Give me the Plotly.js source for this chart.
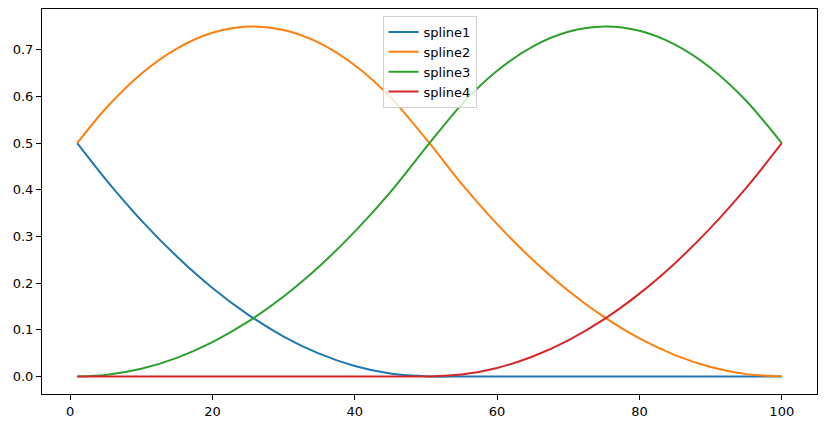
<!DOCTYPE html>
<html>
<head>
<meta charset="utf-8">
<script src="https://cdn.plot.ly/plotly-3.0.1.min.js"></script>
<style>html,body{margin:0;padding:0;background:#fff;}#chart{width:826px;height:428px;}</style>
</head>
<body>
<div id="chart"></div>
<script>
const xs = [1, 5, 10, 15, 20, 25, 30, 35, 40, 45, 50.5, 55, 60, 65, 70, 75, 80, 85, 90, 95, 100];
const spline1 = [0.5, 0.4225, 0.3347, 0.2572, 0.1898, 0.1327, 0.0857, 0.0490, 0.0225, 0.0062, 0, 0, 0, 0, 0, 0, 0, 0, 0, 0, 0];
const spline2 = [0.5, 0.5742, 0.6488, 0.7028, 0.7365, 0.7498, 0.7427, 0.7151, 0.6671, 0.5987, 0.5, 0.4132, 0.3265, 0.25, 0.1837, 0.1276, 0.0816, 0.0459, 0.0204, 0.0051, 0];
const spline3 = [0, 0.0033, 0.0165, 0.0400, 0.0737, 0.1175, 0.1716, 0.2359, 0.3104, 0.3951, 0.5, 0.5827, 0.6551, 0.7071, 0.7387, 0.7499, 0.7408, 0.7112, 0.6612, 0.5908, 0.5];
const spline4 = [0, 0, 0, 0, 0, 0, 0, 0, 0, 0, 0, 0.0041, 0.0184, 0.0429, 0.0776, 0.1225, 0.1776, 0.2429, 0.3184, 0.4041, 0.5];
const names = ['spline1', 'spline2', 'spline3', 'spline4'];
const colors = ['#1f77b4', '#ff7f0e', '#2ca02c', '#d62728'];
const series = [spline1, spline2, spline3, spline4];

const traces = series.map((ys, i) => ({
  x: xs, y: ys, name: names[i], type: 'scatter', mode: 'lines',
  line: {color: colors[i], width: 2, shape: 'spline', smoothing: 0.8}
}));

const axisCommon = {
  showline: true, mirror: true, linecolor: '#000', linewidth: 1,
  ticks: 'outside', ticklen: 5, tickwidth: 1, tickcolor: '#000',
  showgrid: false, zeroline: false,
  tickfont: {family: 'DejaVu Sans', size: 13, color: '#000'}
};

const layout = {
  width: 826, height: 428,
  margin: {l: 42, r: 9, t: 9, b: 34},
  paper_bgcolor: '#fff', plot_bgcolor: '#fff',
  font: {family: 'DejaVu Sans', size: 13, color: '#000'},
  xaxis: Object.assign({}, axisCommon, {range: [-3.95, 104.95], tickvals: [0, 20, 40, 60, 80, 100]}),
  yaxis: Object.assign({}, axisCommon, {range: [-0.0375, 0.7875], tickvals: [0, 0.1, 0.2, 0.3, 0.4, 0.5, 0.6, 0.7], tickformat: '.1f'}),
  showlegend: true,
  legend: {
    x: 0.5, xanchor: 'center', y: 0.982, yanchor: 'top',
    bgcolor: 'rgba(255,255,255,0.8)', bordercolor: '#d0d0d0', borderwidth: 1,
    font: {family: 'DejaVu Sans', size: 13, color: '#000'},
    tracegroupgap: 0
  }
};

Plotly.newPlot('chart', traces, layout, {displayModeBar: false, staticPlot: true});
</script>
</body>
</html>
